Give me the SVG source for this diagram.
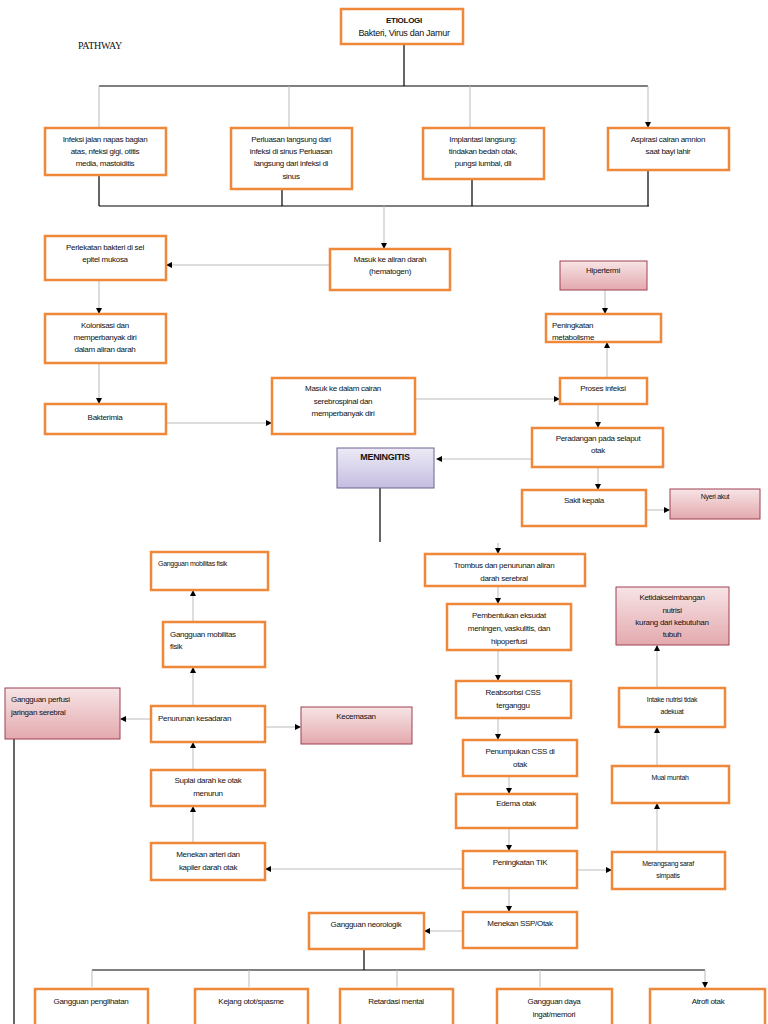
<svg xmlns="http://www.w3.org/2000/svg" width="768" height="1024" viewBox="0 0 768 1024">
<style>
.b{fill:#fff;stroke:#f0883a;stroke-width:2.5}
.p{fill:url(#pk);stroke:#a04050;stroke-width:1}
.v{fill:url(#lv);stroke:#706090;stroke-width:1}
text{font-family:"Liberation Sans",Arial,sans-serif;font-size:8px;fill:#111;letter-spacing:-0.3px}
.c{text-anchor:middle}
.k{stroke:#000;stroke-width:1.2;fill:none}
.g{stroke:#bbb;stroke-width:1;fill:none;marker-end:url(#ah)}
</style>
<defs>
<marker id="ah" markerWidth="6" markerHeight="6" refX="5" refY="3" orient="auto" markerUnits="userSpaceOnUse"><path d="M0,0 L6,3 L0,6z" fill="#000"/></marker>
<linearGradient id="pk" x1="0" y1="0" x2="0" y2="1"><stop offset="0" stop-color="#f7e4e6"/><stop offset="1" stop-color="#e3a9ae"/></linearGradient>
<linearGradient id="lv" x1="0" y1="0" x2="0" y2="1"><stop offset="0" stop-color="#ecebf6"/><stop offset="1" stop-color="#c5bde0"/></linearGradient>
<clipPath id="cm"><rect x="546" y="314" width="115" height="28"/></clipPath>
</defs>
<rect width="768" height="1024" fill="#fff"/>
<text x="78" y="49" style="font-family:'Liberation Serif',serif;font-size:10px">PATHWAY</text>

<g id="connectors">
<path class="k" d="M404,44V86M99,86H648"/>
<path class="g" d="M99,86V127M289,86V127M470,86V127M648,86V127"/>
<path class="k" d="M99,175V206M282,189V206M472,179V206M648,170V206M99,206H649"/>
<path class="g" d="M384,206V248"/>
<path class="g" d="M330,265H167"/>
<path class="g" d="M99,280V313"/>
<path class="g" d="M99,363V403"/>
<path class="g" d="M166,423H271"/>
<path class="g" d="M415,399H559"/>
<path class="g" d="M605,290V313"/>
<path class="g" d="M607,378V343"/>
<path class="g" d="M598,404V427"/>
<path class="g" d="M532,459H437"/>
<path class="g" d="M598,467V489"/>
<path class="g" d="M646,510H669"/>
<path class="k" d="M380,488V542"/>
<path class="g" d="M498,543V553"/>
<path class="g" d="M498,586V603"/>
<path class="g" d="M498,650V680"/>
<path class="g" d="M498,718V739"/>
<path class="g" d="M509,776V793"/>
<path class="g" d="M509,828V850"/>
<path class="g" d="M509,888V911"/>
<path class="g" d="M463,931H425"/>
<path class="g" d="M193,706V668"/>
<path class="g" d="M193,622V591"/>
<path class="g" d="M151,719H121"/>
<path class="g" d="M265,727H300"/>
<path class="g" d="M193,770V743"/>
<path class="g" d="M193,843V807"/>
<path class="g" d="M463,869H266"/>
<path class="g" d="M577,870H611"/>
<path class="g" d="M657,852V804"/>
<path class="g" d="M657,766V728"/>
<path class="g" d="M657,688V646"/>
<path class="k" d="M364,949V970M92,970H705"/>
<path class="g" d="M92,970V987M249,970V987M397,970V987M540,970V987M705,970V987"/>
<path class="k" d="M14,739V1024"/>
</g>

<g id="etiologi"><rect class="b" x="341" y="9" width="122" height="35"/><text class="c" x="404" y="23" font-weight="bold">ETIOLOGI</text><text class="c" x="404" y="36" style="font-size:9px">Bakteri, Virus dan Jamur</text></g>
<g id="n1"><rect class="b" x="45" y="128" width="121" height="47"/><text class="c" x="105" y="142">Infeksi jalan napas bagian</text><text class="c" x="105" y="154">atas, nfeksi gigi, otitis</text><text class="c" x="105" y="166">media, mastoiditis</text></g>
<g id="n2"><rect class="b" x="231" y="128" width="121" height="61"/><text class="c" x="291" y="142">Perluasan langsung dari</text><text class="c" x="291" y="154">infeksi di sinus Perluasan</text><text class="c" x="291" y="166">langsung dari infeksi di</text><text class="c" x="291" y="179">sinus</text></g>
<g id="n3"><rect class="b" x="423" y="128" width="121" height="51"/><text class="c" x="483" y="142">Implantasi langsung:</text><text class="c" x="483" y="154">tindakan bedah otak,</text><text class="c" x="483" y="166">pungsi lumbal, dll</text></g>
<g id="n4"><rect class="b" x="608" y="128" width="121" height="42"/><text class="c" x="668" y="142">Aspirasi cairan amnion</text><text class="c" x="668" y="154">saat bayi lahir</text></g>
<g id="n5"><rect class="b" x="330" y="249" width="120" height="41"/><text class="c" x="390" y="262">Masuk ke aliran darah</text><text class="c" x="390" y="274">(hematogen)</text></g>
<g id="n6"><rect class="b" x="45" y="236" width="121" height="44"/><text class="c" x="105" y="250">Perlekatan bakteri di sel</text><text class="c" x="105" y="262">epitel mukosa</text></g>
<g id="n7"><rect class="b" x="45" y="314" width="121" height="49"/><text class="c" x="105" y="328">Kolonisasi dan</text><text class="c" x="105" y="340">memperbanyak diri</text><text class="c" x="105" y="352">dalam aliran darah</text></g>
<g id="n8"><rect class="b" x="45" y="404" width="121" height="30"/><text class="c" x="105" y="420">Bakterimia</text></g>
<g id="n9"><rect class="b" x="272" y="378" width="143" height="56"/><text class="c" x="343" y="391">Masuk ke dalam cairan</text><text class="c" x="343" y="404">serebrospinal dan</text><text class="c" x="343" y="416">memperbanyak diri</text></g>
<g id="n10"><rect class="b" x="560" y="378" width="87" height="26"/><text class="c" x="603" y="391">Proses infeksi</text></g>
<g id="n11"><rect class="p" x="560" y="261" width="87" height="29"/><text class="c" x="603" y="273">Hipertermi</text></g>
<g id="n12"><rect class="b" x="546" y="314" width="115" height="28"/><text x="552" y="328">Peningkatan</text><text x="552" y="340" clip-path="url(#cm)">metabolisme</text></g>
<g id="n13"><rect class="b" x="532" y="428" width="131" height="39"/><text class="c" x="598" y="441">Peradangan pada selaput</text><text class="c" x="598" y="453">otak</text></g>
<g id="n14"><rect class="v" x="337" y="448" width="97" height="40"/><text class="c" x="385" y="460" font-weight="bold" style="font-size:9px">MENINGITIS</text></g>
<g id="n15"><rect class="b" x="522" y="490" width="124" height="36"/><text class="c" x="584" y="503">Sakit kepala</text></g>
<g id="n16"><rect class="p" x="670" y="489" width="90" height="30"/><text class="c" x="715" y="499" style="font-size:7px">Nyeri akut</text></g>

<g id="m1"><rect class="b" x="151" y="552" width="117" height="38"/><text x="158" y="566" style="font-size:7px">Gangguan mobilitas fisik</text></g>
<g id="m2"><rect class="b" x="163" y="622" width="102" height="45"/><text x="170" y="637">Gangguan mobilitas</text><text x="170" y="649">fisik</text></g>
<g id="m3"><rect class="p" x="5" y="688" width="115" height="51"/><text x="11" y="702">Gangguan perfusi</text><text x="11" y="715">jaringan serebral</text></g>
<g id="m4"><rect class="b" x="151" y="706" width="114" height="36"/><text x="158" y="721">Penurunan kesadaran</text></g>
<g id="m5"><rect class="p" x="301" y="707" width="111" height="37"/><text class="c" x="356" y="719">Kecemasan</text></g>
<g id="m6"><rect class="b" x="151" y="770" width="114" height="36"/><text class="c" x="208" y="783">Suplai darah ke otak</text><text class="c" x="208" y="796">menurun</text></g>
<g id="m7"><rect class="b" x="151" y="843" width="114" height="37"/><text class="c" x="208" y="857">Menekan arteri dan</text><text class="c" x="208" y="870">kapiler darah otak</text></g>
<g id="m8"><rect class="b" x="425" y="554" width="160" height="32"/><text class="c" x="504" y="568">Trombus dan penurunan aliran</text><text class="c" x="504" y="581">darah serebral</text></g>
<g id="m9"><rect class="b" x="447" y="604" width="124" height="46"/><text class="c" x="509" y="618">Pembentukan eksudat</text><text class="c" x="509" y="631">meningen, vaskulitis, dan</text><text class="c" x="509" y="644">hipoperfusi</text></g>
<g id="m10"><rect class="b" x="456" y="681" width="115" height="37"/><text class="c" x="513" y="695">Reabsorbsi CSS</text><text class="c" x="513" y="708">terganggu</text></g>
<g id="m11"><rect class="b" x="463" y="740" width="114" height="36"/><text class="c" x="520" y="754">Penumpukan CSS di</text><text class="c" x="520" y="767">otak</text></g>
<g id="m12"><rect class="b" x="456" y="794" width="121" height="34"/><text class="c" x="516" y="806">Edema otak</text></g>
<g id="m13"><rect class="b" x="463" y="851" width="114" height="37"/><text class="c" x="520" y="865">Peningkatan TIK</text></g>
<g id="m14"><rect class="b" x="463" y="912" width="114" height="36"/><text class="c" x="520" y="926">Menekan SSP/Otak</text></g>
<g id="m15"><rect class="b" x="309" y="913" width="115" height="36"/><text class="c" x="366" y="927">Gangguan neorologik</text></g>
<g id="m16"><rect class="p" x="616" y="587" width="113" height="58"/><text class="c" x="672" y="600">Ketidakseimbangan</text><text class="c" x="672" y="613">nutrisi</text><text class="c" x="672" y="625">kurang dari kebutuhan</text><text class="c" x="672" y="637">tubuh</text></g>
<g id="m17"><rect class="b" x="619" y="688" width="106" height="39"/><text class="c" x="672" y="702" style="font-size:7px">Intake nutrisi tidak</text><text class="c" x="672" y="714" style="font-size:7px">adekuat</text></g>
<g id="m18"><rect class="b" x="612" y="766" width="117" height="37"/><text class="c" x="670" y="780" style="font-size:7px">Mual muntah</text></g>
<g id="m19"><rect class="b" x="612" y="852" width="113" height="37"/><text class="c" x="668" y="866" style="font-size:7px">Merangsang saraf</text><text class="c" x="668" y="878" style="font-size:7px">simpatis</text></g>
<g id="r1"><rect class="b" x="35" y="989" width="113" height="45"/><text class="c" x="91" y="1004">Gangguan penglihatan</text></g>
<g id="r2"><rect class="b" x="195" y="989" width="113" height="45"/><text class="c" x="251" y="1004">Kejang otot/spasme</text></g>
<g id="r3"><rect class="b" x="340" y="989" width="113" height="45"/><text class="c" x="396" y="1004">Retardasi mental</text></g>
<g id="r4"><rect class="b" x="497" y="989" width="115" height="45"/><text class="c" x="554" y="1004">Gangguan daya</text><text class="c" x="554" y="1017">ingat/memori</text></g>
<g id="r5"><rect class="b" x="650" y="989" width="115" height="45"/><text class="c" x="708" y="1004">Atrofi otak</text></g>
</svg>
